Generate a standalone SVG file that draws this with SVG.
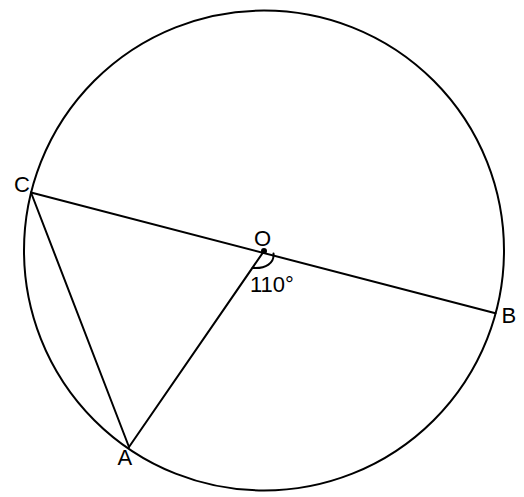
<svg xmlns="http://www.w3.org/2000/svg" width="524" height="497" viewBox="0 0 524 497">
<style>
.s{fill:none;stroke:#000;stroke-width:2;stroke-linecap:round}
.t{font-family:"Liberation Sans",Arial,sans-serif;font-size:22px;fill:#000}
</style>
<rect width="524" height="497" fill="#fff"/>
<g id="circle"><circle class="s" cx="264" cy="250.5" r="240"/></g>
<g id="connectors">
<line class="s" x1="31" y1="192.5" x2="495.5" y2="313.3"/>
<line class="s" x1="264" y1="251" x2="129" y2="447"/>
<line class="s" x1="31" y1="192.5" x2="129" y2="447"/>
<path class="s" d="M273.5 253.4 C274.5 263 266 269 252.5 268"/>
</g>
<g id="O"><circle cx="264" cy="251" r="3"/><text class="t" x="254" y="246">O</text></g>
<g id="angle"><text class="t" x="250" y="292">110°</text></g>
<g id="C"><text class="t" x="14" y="192">C</text></g>
<g id="B"><text class="t" x="501.5" y="323">B</text></g>
<g id="A"><text class="t" x="117.5" y="465">A</text></g>
</svg>
